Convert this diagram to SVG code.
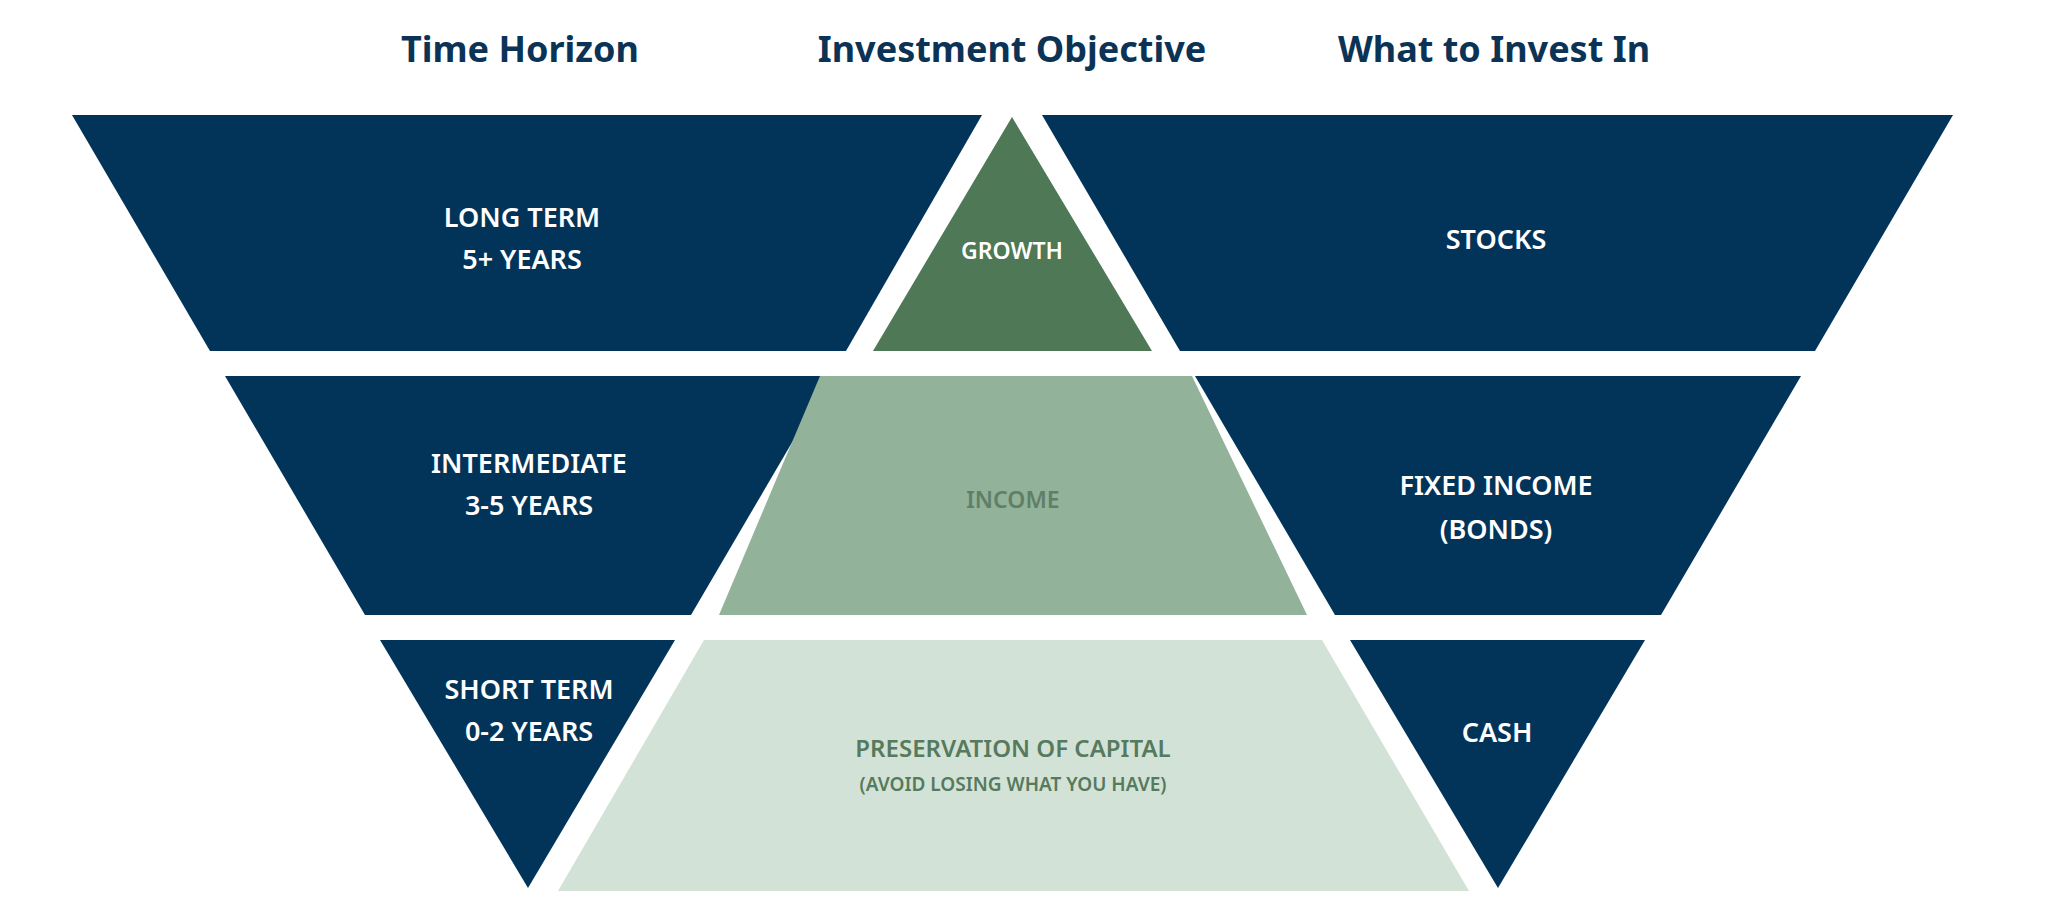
<svg xmlns="http://www.w3.org/2000/svg" width="2048" height="906" viewBox="0 0 2048 906">
<style>
.navy{fill:#02345a}
.h{font-family:"Noto Sans","Liberation Sans",sans-serif;font-weight:700;font-size:36px;fill:#0b3356;text-anchor:middle}
.w{font-family:"Noto Sans","Liberation Sans",sans-serif;font-weight:600;font-size:27px;fill:#ffffff;text-anchor:middle}
.s{font-size:23px}
.g{font-family:"Noto Sans","Liberation Sans",sans-serif;font-weight:600;text-anchor:middle}
</style>
<rect width="2048" height="906" fill="#ffffff"/>
<g id="headers">
<text class="h" x="520" y="62">Time Horizon</text>
<text class="h" x="1012" y="62">Investment Objective</text>
<text class="h" x="1494" y="62">What to Invest In</text>
</g>
<g id="long-term"><polygon class="navy" points="72,115 982,115 846,351 210,351"/>
<text class="w" x="522" y="227">LONG TERM</text><text class="w" x="522" y="269">5+ YEARS</text></g>
<g id="intermediate"><polygon class="navy" points="225,376 831,376 691,615 365,615"/>
<text class="w" x="529" y="473">INTERMEDIATE</text><text class="w" x="529" y="515">3-5 YEARS</text></g>
<g id="short-term"><polygon class="navy" points="380,640 675,640 528,888"/>
<text class="w" x="529" y="699">SHORT TERM</text><text class="w" x="529" y="741">0-2 YEARS</text></g>
<g id="growth"><polygon fill="#4e7856" points="1012,117 1152,351 873,351"/>
<text class="w s" x="1012" y="259">GROWTH</text></g>
<g id="income"><polygon fill="#93b29a" points="820,376 1192,376 1307,615 719,615"/>
<text class="g" x="1013" y="508" font-size="23" fill="#5f7f68">INCOME</text></g>
<g id="preservation"><polygon fill="#d3e2d6" points="704,640 1322,640 1469,891 558,891"/>
<text class="g" x="1013" y="757" font-size="24" fill="#567a5d">PRESERVATION OF CAPITAL</text>
<text class="g" x="1013" y="791" font-size="19" fill="#567a5d">(AVOID LOSING WHAT YOU HAVE)</text></g>
<g id="stocks"><polygon class="navy" points="1042,115 1953,115 1815,351 1180,351"/>
<text class="w" x="1496" y="249">STOCKS</text></g>
<g id="fixed-income"><polygon class="navy" points="1195,376 1801,376 1661,615 1335,615"/>
<text class="w" x="1496" y="495">FIXED INCOME</text><text class="w" x="1496" y="539">(BONDS)</text></g>
<g id="cash"><polygon class="navy" points="1350,640 1645,640 1498,888"/>
<text class="w" x="1497" y="742">CASH</text></g>
<g id="connectors"/>
</svg>
